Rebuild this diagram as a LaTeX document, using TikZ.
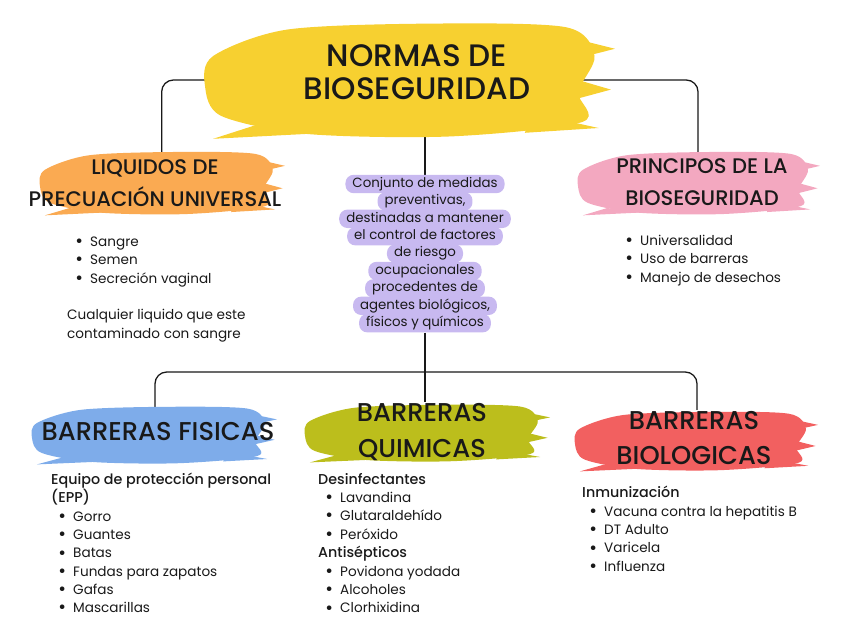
\documentclass[tikz,border=0pt]{standalone}
\usepackage{fontspec}
\setmainfont{Poppins}
\newfontfamily\headfont{Poppins Medium}
\usetikzlibrary{backgrounds}

\definecolor{brushyellow}{RGB}{247,208,48}
\definecolor{brushorange}{RGB}{250,170,82}
\definecolor{brushpink}{RGB}{243,168,192}
\definecolor{brushblue}{RGB}{126,172,234}
\definecolor{brusholive}{RGB}{188,190,28}
\definecolor{brushred}{RGB}{242,96,96}
\definecolor{lavender}{RGB}{200,185,240}
\definecolor{ink}{RGB}{25,25,25}

% painted stroke behind a heading: x, y, width, height, colour
\newcommand\brushstroke[5]{%
  \begin{scope}[shift={(#1,#2)},xscale=#3,yscale=#4]
    \fill[#5] plot[smooth cycle,tension=0.5] coordinates {
      (0.02,0.3) (0.2,0.08) (0.55,0.03) (0.88,0.06) (0.95,0.3)
      (0.91,0.6) (0.92,0.85) (0.6,0.97) (0.25,0.95) (0.04,0.8) (0.0,0.55)};
    \fill[#5] (0.86,0.12) -- (1.0,0.24) -- (0.86,0.36) -- cycle;
    \fill[#5] (0.86,0.45) -- (0.99,0.58) -- (0.86,0.7) -- cycle;
    \fill[#5] (0.8,0.78) -- (0.96,0.9) -- (0.78,0.94) -- cycle;
    \fill[#5] (0.12,0.88) -- (0.02,0.99) -- (0.3,0.94) -- cycle;
  \end{scope}}

\tikzset{
  heading/.style={font=\headfont\fontsize{18}{27}\selectfont,align=center,inner sep=1pt,text=ink},
  bigheading/.style={heading,font=\headfont\fontsize{22}{30}\selectfont},
  item/.style={anchor=west,inner sep=0pt,text height=8pt,text depth=2.5pt,
    font=\fontsize{11.6}{14}\selectfont,text=ink},
  bulleted/.style={item,execute at begin node={\llap{{\fontsize{16}{16}\selectfont\raisebox{-0.12ex}{\textbullet}}\hspace{6pt}}}},
  subhead/.style={item,font=\headfont\fontsize{12.2}{14}\selectfont},
  defline/.style={fill=lavender,rounded corners=7pt,inner xsep=6pt,inner ysep=2.6pt,
    text height=8pt,text depth=2.5pt,font=\fontsize{11.4}{14}\selectfont,text=ink},
  link/.style={draw=ink,line width=1.1pt,rounded corners=10pt},
}

\begin{document}
\begin{tikzpicture}[x=0.03cm,y=-0.03cm]
  \useasboundingbox (0,0) rectangle (853,640);

  % headings
  \brushstroke{205}{20}{410}{120}{brushyellow}
  \node[heading,font=\headfont\fontsize{26.5}{28.5}\selectfont] (title) at (417,72) {NORMAS DE\\BIOSEGURIDAD};

  \brushstroke{40}{150}{245}{66}{brushorange}
  \node[heading] (liq) at (155,183) {LIQUIDOS DE\\PRECUACIÓN UNIVERSAL};

  \brushstroke{578}{150}{242}{66}{brushpink}
  \node[heading] (pri) at (702,182) {PRINCIPOS DE LA\\BIOSEGURIDAD};

  \brushstroke{32}{405}{245}{60}{brushblue}
  \node[bigheading] (fis) at (158,432) {BARRERAS FISICAS};

  \brushstroke{305}{403}{245}{60}{brusholive}
  \node[bigheading] (qui) at (422,432) {BARRERAS\\QUIMICAS};

  \brushstroke{575}{410}{243}{62}{brushred}
  \node[bigheading] (bio) at (694,438) {BARRERAS\\BIOLOGICAS};

  % definition
  \foreach \t [count=\i] in {Conjunto de medidas, {preventivas,},
      destinadas a mantener, el control de factores, de riesgo,
      ocupacionales, procedentes de, {agentes biológicos,}, físicos y químicos}
    \node[defline] (def\i) at (425,{184+17.4*(\i-1)}) {\t};

  % liquidos
  \foreach \t [count=\i] in {Sangre, Semen, Secreción vaginal}
    \node[bulleted] (liq-\i) at (90,{243+18.5*(\i-1)}) {\t};
  \node[item] (liq-a) at (67,316) {Cualquier liquido que este};
  \node[item] (liq-b) at (67,335) {contaminado con sangre};

  % principios
  \foreach \t [count=\i] in {Universalidad, Uso de barreras, Manejo de desechos}
    \node[bulleted] (pri-\i) at (640,{242+18.5*(\i-1)}) {\t};

  % fisicas
  \node[subhead] (fis-a) at (51,481) {Equipo de protección personal};
  \node[subhead] (fis-b) at (51,499) {(EPP)};
  \foreach \t [count=\i] in {Gorro, Guantes, Batas, Fundas para zapatos, Gafas, Mascarillas}
    \node[bulleted] (fis-\i) at (73,{518+18.3*(\i-1)}) {\t};

  % quimicas
  \node[subhead] (qui-a) at (318,481) {Desinfectantes};
  \foreach \t [count=\i] in {Lavandina, Glutaraldehído, Peróxido}
    \node[bulleted] (qui-\i) at (340,{499+18.5*(\i-1)}) {\t};
  \node[subhead] (qui-b) at (318,554) {Antisépticos};
  \foreach \t [count=\i] in {Povidona yodada, Alcoholes, Clorhixidina}
    \node[bulleted] (qui-\the\numexpr\i+3\relax) at (340,{573+18.3*(\i-1)}) {\t};

  % biologicas
  \node[subhead] (bio-a) at (582,494) {Inmunización};
  \foreach \t [count=\i] in {Vacuna contra la hepatitis B, DT Adulto, Varicela, Influenza}
    \node[bulleted] (bio-\i) at (604,{513+18.3*(\i-1)}) {\t};

  % connectors
  \begin{scope}[on background layer]
    \coordinate (hub) at (417,80);
    \coordinate (bar) at (425,372);
    \draw[link] (hub) -| ([xshift=0.2cm]liq.north);
    \draw[link] (hub) -| ([xshift=-0.12cm]pri.north);
    \draw[link] (title.south -| def1.north) -- (def1.north);
    \draw[link] ([xshift=-0.09cm]fis.north) |- (bar) -| ([xshift=0.09cm]bio.north);
    \draw[link] (def9.south) -- (def9.south |- qui.north);
  \end{scope}
\end{tikzpicture}
\end{document}
